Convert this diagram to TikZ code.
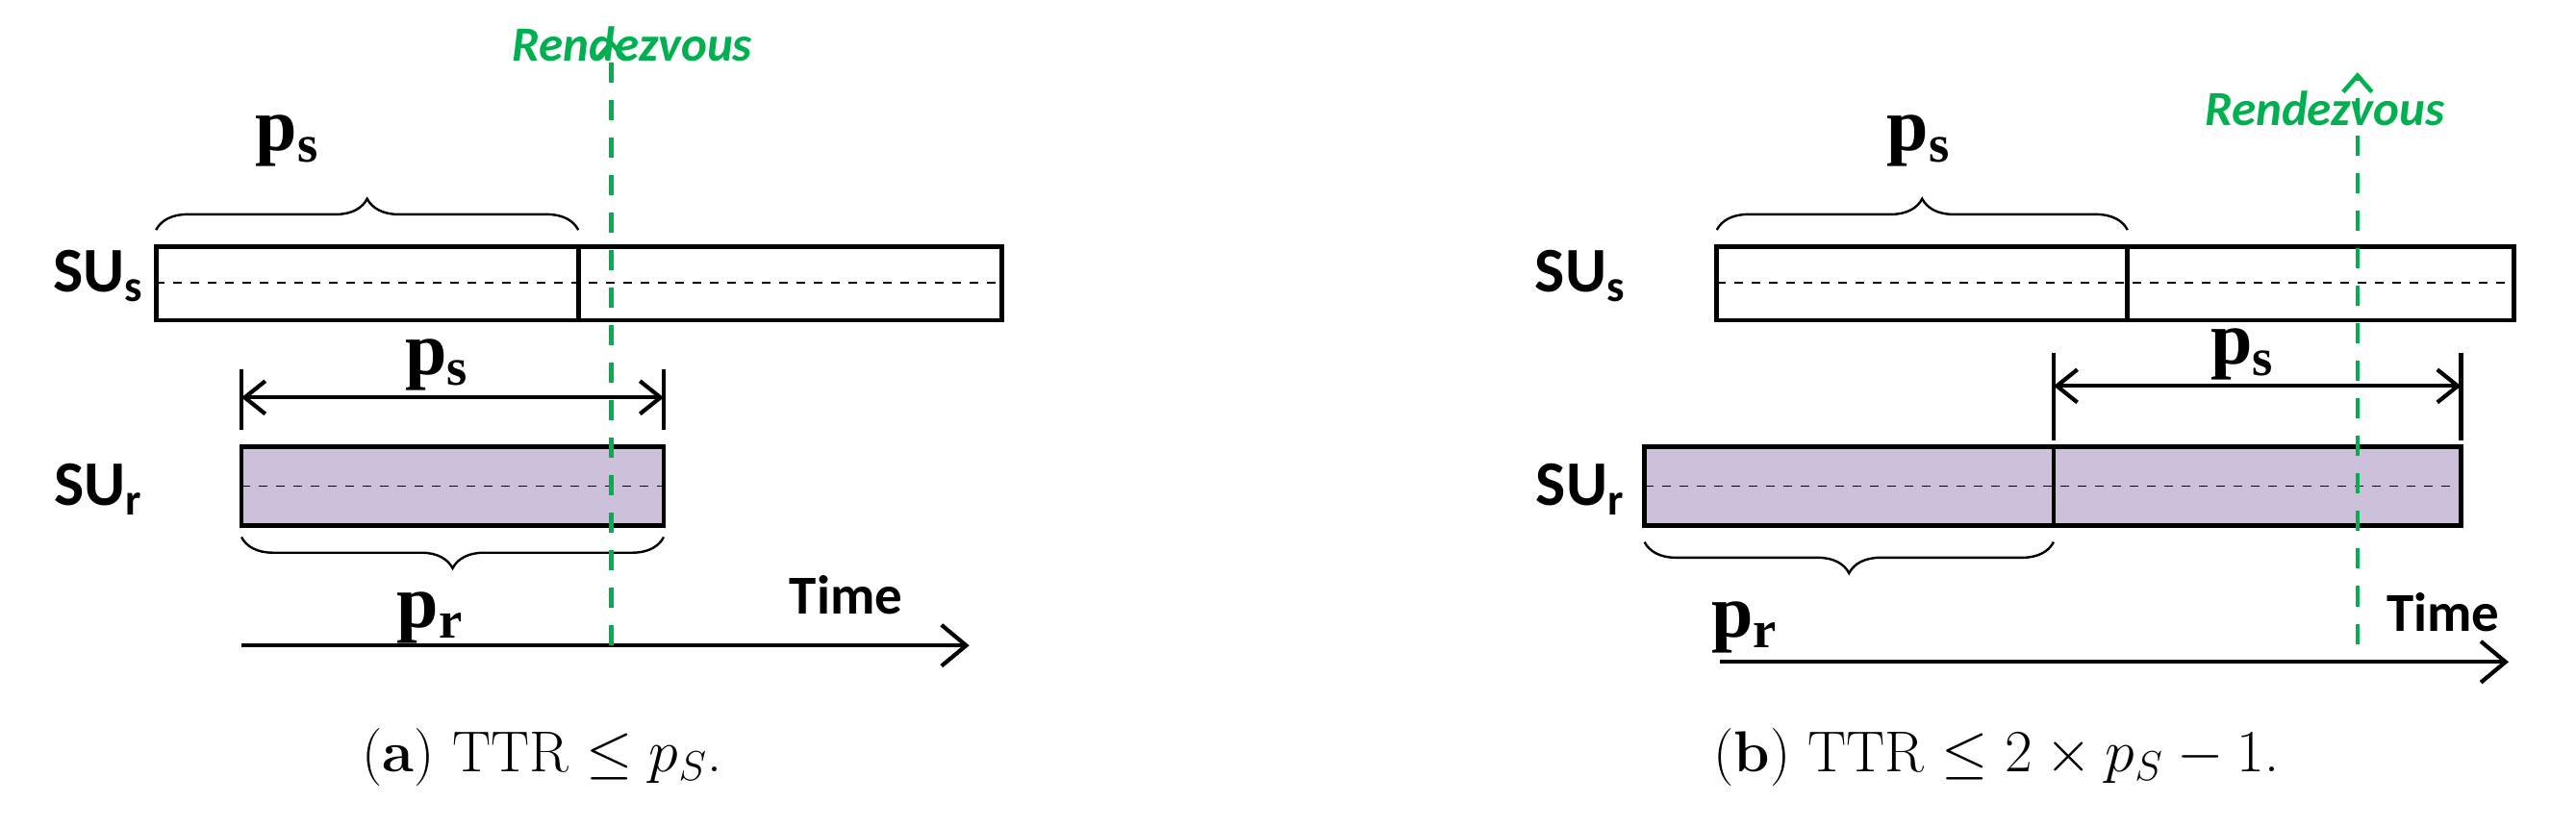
\documentclass[tikz,border=0pt]{standalone}
\usepackage{fontspec}
\setmainfont{Latin Modern Roman}
\newfontfamily\carfont{Carlito}
\newfontfamily\tmsfont{Liberation Serif}
\usetikzlibrary{decorations.pathreplacing,arrows.meta}
\definecolor{rv}{RGB}{0,176,80}
\definecolor{lil}{RGB}{204,192,218}
\tikzset{
 slot/.style={draw,line width=1.6pt},
 mid/.style={dashed,line width=0.5pt},
 br/.style={decorate,decoration={brace,amplitude=0.38cm},line width=0.8pt},
 dim/.style={line width=1.4pt,{Straight Barb[length=2.5mm,width=4mm]}-{Straight Barb[length=2.5mm,width=4mm]}},
 tick/.style={line width=1.4pt},
 rvl/.style={rv,dashed,dash pattern=on 7pt off 6pt,line width=1.5pt,-{Straight Barb[length=2mm,width=3.5mm]}},
 timeax/.style={line width=1.4pt,-{Straight Barb[length=3mm,width=5mm]}},
 plab/.style={font=\tmsfont\bfseries\fontsize{26}{26}\selectfont},
 sulab/.style={font=\carfont\bfseries\fontsize{22}{22}\selectfont},
 tlab/.style={font=\carfont\bfseries\fontsize{19}{19}\selectfont},
 rvlab/.style={font=\carfont\bfseries\itshape\fontsize{17}{17}\selectfont,text=rv},
 captext/.style={font=\fontsize{20}{24}\selectfont}
}
\begin{document}
\begin{tikzpicture}[x=0.02cm,y=-0.02cm]
\useasboundingbox (0,0) rectangle (1568,504);
% ---------- (a)
\node[sulab] (sus) at (60,168) {SU\textsubscript{s}};
\node[sulab] (sur) at (60,298) {SU\textsubscript{r}};
\draw[slot] (95,150) rectangle (610,195);
\draw[slot] (352,150) -- (352,195);
\draw[mid] (95,172) -- (610,172);
\draw[slot,fill=lil] (147,272) rectangle (404,320);
\draw[mid] (147,296) -- (404,296);
\draw[br] (95,140) -- (352,140);
\node[plab] (ps1) at (175,86) {p\textsubscript{s}};
\coordinate (a1) at (147,242); \coordinate (a2) at (404,242);
\draw[tick] (147,225) -- (147,262);
\draw[tick] (404,225) -- (404,262);
\draw[dim] (a1) -- (a2);
\node[plab] (ps2) at (266,222) {p\textsubscript{s}};
\draw[br] (404,327) -- (147,327);
\node[plab] (pr1) at (262,376) {p\textsubscript{r}};
\node[tlab] (t1) at (515,362) {Time};
\coordinate (ta1) at (147,393); \coordinate (tb1) at (590,393);
\draw[timeax] (ta1) -- (tb1);
\coordinate (ga) at (372,393); \coordinate (gb) at (372,24);
\draw[rvl] (ga) -- (gb);
\node[rvlab] (rv1) at (385,27) {Rendezvous};
\node[captext] (ca) at (330,461) {(\textbf{a}) TTR $\leq p_S$.};
% ---------- (b)
\node[sulab] (sus2) at (962,168) {SU\textsubscript{s}};
\node[sulab] (sur2) at (962,298) {SU\textsubscript{r}};
\draw[slot] (1045,150) rectangle (1530,195);
\draw[slot] (1295,150) -- (1295,195);
\draw[mid] (1045,172) -- (1530,172);
\draw[slot,fill=lil] (1001,272) rectangle (1498,320);
\draw[slot] (1250,272) -- (1250,320);
\draw[mid] (1001,296) -- (1498,296);
\draw[br] (1045,140) -- (1295,140);
\node[plab] (ps3) at (1168,86) {p\textsubscript{s}};
\coordinate (b1) at (1250,235); \coordinate (b2) at (1498,235);
\draw[tick] (1250,215) -- (1250,268);
\draw[tick] (1498,215) -- (1498,268);
\draw[dim] (b1) -- (b2);
\node[plab] (ps4) at (1365,216) {p\textsubscript{s}};
\draw[br] (1250,330) -- (1001,330);
\node[plab] (pr2) at (1062,382) {p\textsubscript{r}};
\node[tlab] (t2) at (1487,373) {Time};
\coordinate (ta2) at (1047,403); \coordinate (tb2) at (1527,403);
\draw[timeax] (ta2) -- (tb2);
\coordinate (gc) at (1435,392); \coordinate (gd) at (1435,44);
\draw[rvl] (gc) -- (gd);
\node[rvlab] (rv2) at (1415,66) {Rendezvous};
\node[captext] (cb) at (1215,461) {(\textbf{b}) TTR $\leq 2\times p_S - 1$.};
\end{tikzpicture}
\end{document}
